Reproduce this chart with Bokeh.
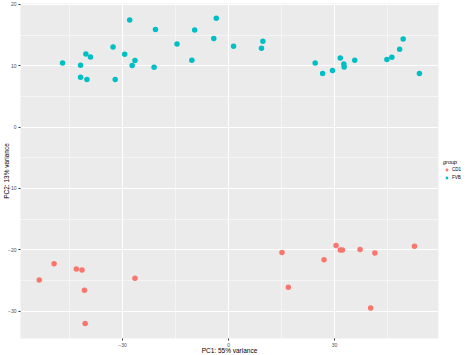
from bokeh.plotting import figure
from bokeh.models import ColumnDataSource, FixedTicker, Range1d, Legend, LegendItem
from bokeh.embed import file_html
from bokeh.resources import INLINE

# Data
fvb_pc1 = [-47.0, -41.9, -41.9, -40.1, -40.4, -39.1, -32.7, -32.1, -29.4, -28.0, -27.3, -26.5,
           -21.1, -20.7, -14.6, -10.4, -9.6, -4.2, -3.5, 1.4, 9.3, 9.7, 24.5, 26.6, 29.4,
           31.6, 32.6, 32.7, 35.7, 44.8, 46.2, 48.4, 49.4, 54.0]
fvb_pc2 = [10.46, 10.08, 8.12, 7.75, 11.93, 11.44, 13.07, 7.75, 11.88, 17.48, 10.03, 10.85,
           9.75, 15.92, 13.56, 10.90, 15.85, 14.44, 17.76, 13.19, 12.86, 14.0, 10.46, 8.73, 9.22,
           11.27, 10.29, 9.80, 10.90, 11.01, 11.39, 12.70, 14.38, 8.73]
cd1_pc1 = [-53.6, -49.4, -43.1, -41.5, -40.8, -40.6, -26.5, 15.1, 16.9, 27.0, 30.4, 31.6,
           32.2, 37.2, 41.4, 40.2, 52.6]
cd1_pc2 = [-24.93, -22.27, -23.14, -23.30, -26.63, -32.03, -24.67, -20.47, -26.14, -21.62,
           -19.33, -20.03, -20.03, -19.98, -20.52, -29.51, -19.44]
groups = ["CD1", "FVB"]
x_title = "PC1: 55% variance"
y_title = "PC2: 13% variance"
x_ticks = [-30, 0, 30]
x_minor = [-45, -15, 15, 45]
y_ticks = [-30, -20, -10, 0, 10, 20]
y_minor = [-25, -15, -5, 5, 15]

colors = {"CD1": "#F8766D", "FVB": "#00BFC4"}

p = figure(frame_width=418, frame_height=335, output_backend="svg", toolbar_location=None,
           x_range=Range1d(-58.9, 59.4), y_range=Range1d(-34.48, 20.16),
           min_border_left=0, min_border_right=36, min_border_top=3, min_border_bottom=0)

p.background_fill_color = "#EBEBEB"
p.border_fill_color = "white"
p.outline_line_color = None

p.xaxis.ticker = FixedTicker(ticks=x_ticks, minor_ticks=x_minor)
p.yaxis.ticker = FixedTicker(ticks=y_ticks, minor_ticks=y_minor)

for g in (p.xgrid, p.ygrid):
    g.grid_line_color = "white"
    g.grid_line_width = 1.1
    g.minor_grid_line_color = "white"
    g.minor_grid_line_width = 0.5

for ax in (p.xaxis, p.yaxis):
    ax.axis_line_color = None
    ax.major_tick_line_color = "#333333"
    ax.major_tick_in = 0
    ax.major_tick_out = 2
    ax.minor_tick_line_color = None
    ax.major_label_text_font_size = "5px"
    ax.major_label_text_color = "#4D4D4D"
    ax.major_label_text_font = "Liberation Sans"
    ax.major_label_standoff = 0
    ax.axis_label_text_font_size = "6.5px"
    ax.axis_label_text_font_style = "normal"
    ax.axis_label_text_font = "Liberation Sans"
    ax.axis_label_text_color = "black"

p.xaxis.axis_label = x_title
p.yaxis.axis_label = y_title
p.yaxis.axis_label_standoff = -5
p.xaxis.axis_label_standoff = -3

src_cd1 = ColumnDataSource(dict(x=cd1_pc1, y=cd1_pc2))
src_fvb = ColumnDataSource(dict(x=fvb_pc1, y=fvb_pc2))
r1 = p.scatter("x", "y", source=src_cd1, size=5.5, color=colors["CD1"], line_color=None)
r2 = p.scatter("x", "y", source=src_fvb, size=5.5, color=colors["FVB"], line_color=None)

legend = Legend(items=[LegendItem(label=groups[0], renderers=[r1]),
                       LegendItem(label=groups[1], renderers=[r2])],
                location=(5, 157), title="group",
                title_text_font_size="5.5px", title_text_font="Liberation Sans",
                title_text_color="black", title_standoff=1,
                label_text_font_size="4.5px", label_text_font="Liberation Sans",
                label_text_color="black", label_standoff=2,
                glyph_width=7, glyph_height=7, label_height=7, label_width=8,
                spacing=1, padding=2, margin=0,
                border_line_color=None, background_fill_alpha=0,
                inactive_fill_alpha=0)
p.add_layout(legend, "right")

open("out.html", "w").write(file_html(p, INLINE))
